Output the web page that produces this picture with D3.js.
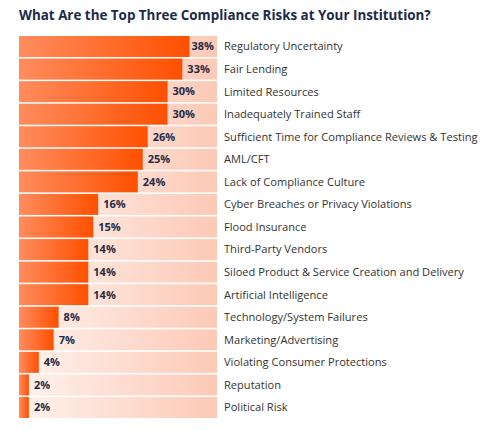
<!DOCTYPE html>
<html>
<head>
<meta charset="utf-8">
<script src="https://cdn.jsdelivr.net/npm/d3@7"></script>
<style>
  body { margin: 0; background: #fff; }
  svg { display: block; }
</style>
</head>
<body>
<div id="chart"></div>
<script>
const categories = [
    "Regulatory Uncertainty",
    "Fair Lending",
    "Limited Resources",
    "Inadequately Trained Staff",
    "Sufficient Time for Compliance Reviews & Testing",
    "AML/CFT",
    "Lack of Compliance Culture",
    "Cyber Breaches or Privacy Violations",
    "Flood Insurance",
    "Third-Party Vendors",
    "Siloed Product & Service Creation and Delivery",
    "Artificial Intelligence",
    "Technology/System Failures",
    "Marketing/Advertising",
    "Violating Consumer Protections",
    "Reputation",
    "Political Risk"
];
const values = [38, 33, 30, 30, 26, 25, 24, 16, 15, 14, 14, 14, 8, 7, 4, 2, 2];
const title = "What Are the Top Three Compliance Risks at Your Institution?";

const width = 494;
const height = 430;

const data = categories.map((c, i) => ({ category: c, value: values[i] }));

const svg = d3.select("#chart")
    .append("svg")
    .attr("width", width)
    .attr("height", height);

const defs = svg.append("defs");

const trackGrad = defs.append("linearGradient")
    .attr("id", "track-grad")
    .attr("x1", "0%").attr("x2", "100%");
trackGrad.append("stop").attr("offset", "0%").attr("stop-color", "#fff2ed");
trackGrad.append("stop").attr("offset", "100%").attr("stop-color", "#fcc9b6");

const barGrad = defs.append("linearGradient")
    .attr("id", "bar-grad")
    .attr("x1", "0%").attr("x2", "100%");
barGrad.append("stop").attr("offset", "0%").attr("stop-color", "#ff8c5e");
barGrad.append("stop").attr("offset", "100%").attr("stop-color", "#ff5000");

svg.append("text")
    .attr("x", 19)
    .attr("y", 20)
    .style("font-family", "'Open Sans', sans-serif")
    .style("font-weight", "bold")
    .style("font-size", "13.4px")
    .attr("fill", "#1c2a4b")
    .text(title);

const x = d3.scaleLinear()
    .domain([0, 40])
    .range([19, 217]);

const y = d3.scaleBand()
    .domain(categories)
    .range([36, 418])
    .paddingInner(0.07)
    .paddingOuter(0);

const rows = svg.selectAll(".row")
    .data(data)
    .enter()
    .append("g")
    .attr("class", "row");

rows.append("rect")
    .attr("x", x(0))
    .attr("y", d => y(d.category))
    .attr("width", x(40) - x(0))
    .attr("height", y.bandwidth())
    .attr("fill", "url(#track-grad)");

const bars = rows.append("rect")
    .attr("x", x(0))
    .attr("y", d => y(d.category))
    .attr("height", y.bandwidth())
    .attr("fill", "url(#bar-grad)");

const valueLabels = rows.append("text")
    .attr("y", d => y(d.category) + y.bandwidth() / 2)
    .attr("dy", "0.35em")
    .style("font-family", "'Open Sans', sans-serif")
    .style("font-weight", "bold")
    .style("font-size", "11px")
    .attr("fill", "#1f2a47")
    .text(d => d.value + "%");

// keep the value label inside the track: shorten the bar if needed
valueLabels.each(function(d) {
    const w = this.getComputedTextLength();
    d.end = Math.min(x(d.value), x(40) - w - 5);
    d.labelX = Math.min(d.end + 5, x(40) - w - 3);
});
bars.attr("width", d => d.end - x(0));
valueLabels.attr("x", d => d.labelX);

rows.append("text")
    .attr("x", 224)
    .attr("y", d => y(d.category) + y.bandwidth() / 2)
    .attr("dy", "0.35em")
    .style("font-family", "'Open Sans', sans-serif")
    .style("font-size", "11.1px")
    .attr("fill", "#333333")
    .text(d => d.category);
</script>
</body>
</html>
